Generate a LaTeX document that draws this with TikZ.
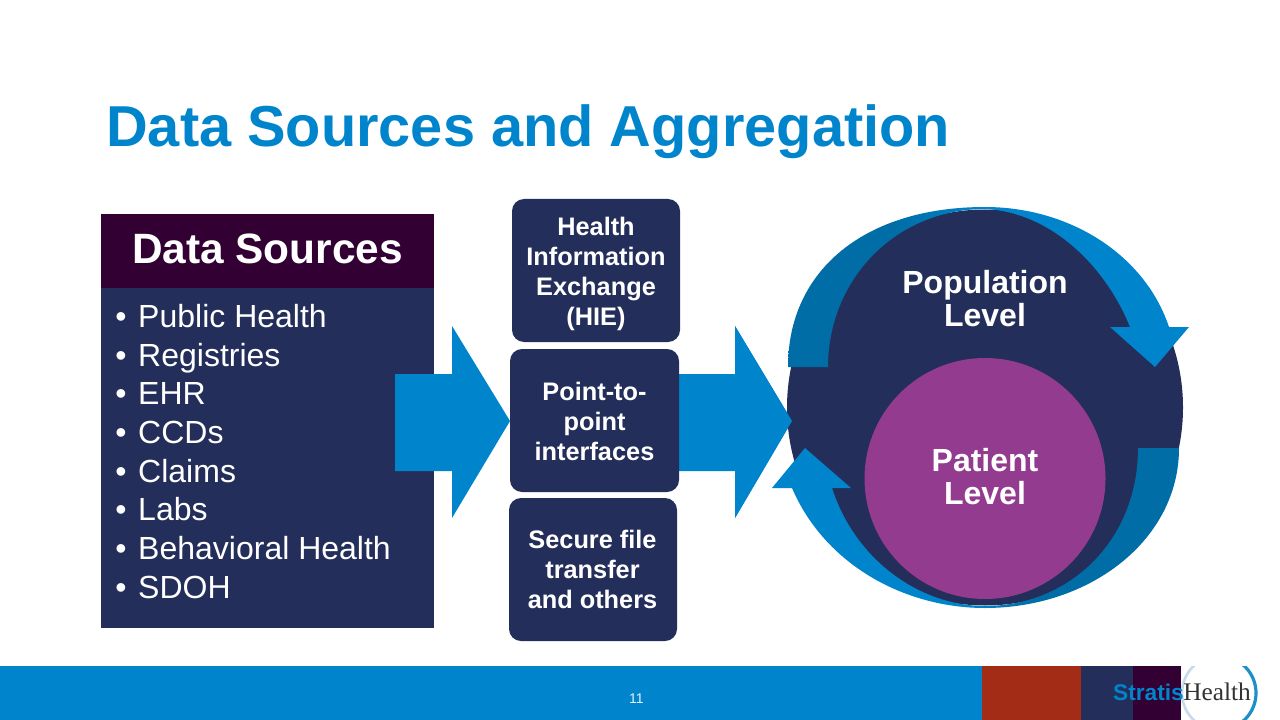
\documentclass[tikz,border=0pt]{standalone}
\usepackage{fontspec}
\setmainfont{Liberation Sans}
\newfontfamily\serifname{Liberation Serif}
\definecolor{navy}{HTML}{242E5A}
\definecolor{plum}{HTML}{330033}
\definecolor{brightblue}{HTML}{0085CC}
\definecolor{deepblue}{HTML}{006DA6}
\definecolor{magenta1}{HTML}{923B8F}
\definecolor{brick}{HTML}{A32C17}
\definecolor{ringlight}{HTML}{C9DBEA}
\definecolor{ringblue}{HTML}{1E90C8}
\pgfdeclarehorizontalshading{topband}{100bp}{color(0bp)=(deepblue); color(38bp)=(deepblue); color(50bp)=(brightblue); color(100bp)=(brightblue)}
\pgfdeclarehorizontalshading{botband}{100bp}{color(0bp)=(brightblue); color(48bp)=(brightblue); color(58bp)=(deepblue); color(100bp)=(deepblue)}
\newcommand{\listline}[1]{\hbox{\hbox to 17.25pt{•\hss}#1}}
\tikzset{
  x=0.75pt,y=-0.75pt,
  titletext/.style={anchor=base west,inner sep=0,text=brightblue,font=\fontsize{43.3}{52}\selectfont\bfseries},
  routebox/.style={fill=navy,rounded corners=9pt},
  boxtext/.style={anchor=center,inner sep=0,text=white,align=center,font=\fontsize{19}{22.5}\selectfont\bfseries},
  leveltext/.style={anchor=center,inner sep=0,text=white,align=center,font=\fontsize{24}{24.75}\selectfont\bfseries},
  blockarrow/.style={fill=brightblue,draw=none},
}
\begin{document}
\begin{tikzpicture}
\useasboundingbox (0,0) rectangle (1280,720);
\fill[white] (0,0) rectangle (1280,720);
% footer
\fill[brightblue] (0,666) rectangle (982,720);
\fill[brick] (982,666) rectangle (1081,720);
\fill[navy] (1081,666) rectangle (1133,720);
\fill[plum] (1133,666) rectangle (1181,720);
\begin{scope}
\clip (1181,666) rectangle (1208,720);
\draw[ringlight,line width=2pt] (1219,693) circle[radius=37];
\end{scope}
\begin{scope}
\clip (1236,666) rectangle (1280,720);
\draw[ringblue,line width=2.4pt] (1219,693) circle[radius=37];
\end{scope}
\node[anchor=base east,inner sep=0,text=brightblue,font=\fontsize{17}{20}\selectfont\bfseries] (logoa) at (1184,700) {Stratis};
\node[anchor=base west,inner sep=0,text=black!80,font=\serifname\fontsize{19}{20}\selectfont] (logob) at (1183,700) {Health};
\node[anchor=center,inner sep=0,text=white!90!brightblue,font=\fontsize{10.5}{12}\selectfont] (pagenum) at (636.5,698.5) {11};
% title
\node[titletext] (title) at (106,147) {Data Sources and Aggregation};
% data sources
\fill[plum] (101,214) rectangle (434,288);
\fill[navy] (101,288) rectangle (434,628);
\node[anchor=center,inner sep=0,text=white,font=\fontsize{31.8}{36}\selectfont\bfseries] (dshead) at (267.5,249) {Data Sources};
\node[anchor=north west,inner sep=0,text=white,font=\fontsize{24}{29}\selectfont] (dslist) at (115,304) {\vbox{\baselineskip=29pt
\listline{Public Health}
\listline{Registries}
\listline{EHR}
\listline{CCDs}
\listline{Claims}
\listline{Labs}
\listline{Behavioral Health}
\listline{SDOH}}};
% right arrow 2 under boxes
\fill[blockarrow] (675,374) -- (735,374) -- (735,326) -- (792,421) -- (735,518) -- (735,471) -- (675,471) -- cycle;
% routes
\fill[routebox] (512,199) rectangle (680,342);
\fill[routebox] (510,349) rectangle (679,492);
\fill[routebox] (509,498) rectangle (677,641);
\node[boxtext] (hie) at (596,274) {Health\\Information\\Exchange\\(HIE)};
\node[boxtext] (ptp) at (594.5,421.5) {Point-to-\\point\\interfaces};
\node[boxtext] (sft) at (592.5,569.5) {Secure file\\transfer\\and others};
% left arrow
\fill[blockarrow] (395,374) -- (452,374) -- (452,326) -- (510,421) -- (452,518) -- (452,471) -- (395,471) -- cycle;
% circle group
\fill[navy] (985,407.5) circle[radius=198];
\shade[shading=topband] (788,367) .. controls (788,270) and (865,207) .. (985,207)
  .. controls (1070,207) and (1145,255) .. (1169,327) -- (1189,327) -- (1155,367) -- (1110,327) -- (1130,327)
  .. controls (1105,265) and (1050,212) .. (985,209)
  .. controls (895,209) and (828,280) .. (828,367) -- cycle;
\shade[shading=botband] (1179,448) .. controls (1179,540) and (1090,608) .. (985,608)
  .. controls (905,608) and (825,565) .. (792,488) -- (772,488) -- (805,448) -- (851,488) -- (832,488)
  .. controls (855,560) and (920,606) .. (985,606)
  .. controls (1070,606) and (1138,540) .. (1138,448) -- cycle;
\fill[magenta1] (985,478.5) circle[radius=120.5];
\node[leveltext] (pop) at (985,298.5) {Population\\Level};
\node[leveltext] (pat) at (985,476.5) {Patient\\Level};
% right arrow tip above circle
\fill[blockarrow] (760,374) -- (735,374) -- (735,326) -- (792,421) -- (735,518) -- (735,471) -- (760,471) -- cycle;
\end{tikzpicture}
\end{document}
